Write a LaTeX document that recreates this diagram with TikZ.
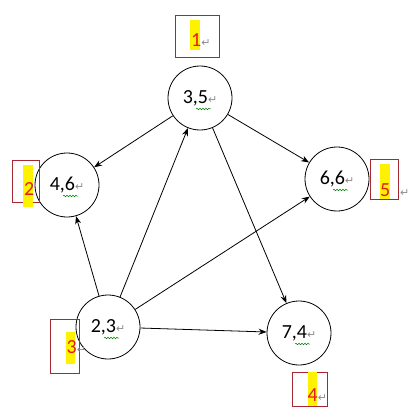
\documentclass[tikz,border=0pt]{standalone}
\usepackage{fontspec}
\setmainfont{Carlito}
\newfontfamily\arrowfont{DejaVu Sans}
\usetikzlibrary{arrows.meta, positioning, decorations.pathmorphing}
\definecolor{tagred}{RGB}{165,40,50}
\definecolor{numred}{RGB}{225,30,30}
\definecolor{markgray}{RGB}{140,140,140}
\newcommand{\pmark}{{\arrowfont\fontsize{11}{12}\selectfont\color{markgray}↵}}
\tikzset{
  state/.style={circle, draw, line width=0.8pt, minimum size=64pt, inner sep=0pt},
  tag/.style={draw=tagred, line width=0.9pt, inner sep=0pt},
  hl/.style={fill=yellow, inner sep=0pt, minimum width=10pt},
  num/.style={text=numred, anchor=base west, inner sep=0pt},
  squiggle/.style={draw=green!50!black, line width=0.5pt, decorate,
    decoration={snake, amplitude=0.8pt, segment length=3pt}}
}
\begin{document}
\begin{tikzpicture}[x=1pt, y=-1pt, >={Stealth[length=8pt, width=6pt]},
  every node/.style={font=\fontsize{20}{24}\selectfont}]
  \useasboundingbox (0,0) rectangle (413,417);
  % states
  \node[state] (s35) at (200,98) {3,5\pmark};
  \node[state] (s46) at (67,185) {4,6\pmark};
  \node[state] (s66) at (337,179) {6,6\pmark};
  \node[state] (s23) at (108,327) {2,3\pmark};
  \node[state] (s74) at (299,333) {7,4\pmark};
  \foreach \s in {s35,s46,s66,s23,s74}
    \draw[squiggle] ([xshift=-4pt, yshift=-11pt]\s.center) -- ++(15,0);
  % numbered tags
  \node[tag, minimum width=44pt, minimum height=42pt] (t1) at (197,36) {};
  \node[hl, minimum height=30pt] (h1) at (195,35) {};
  \node[num] (n1) at (191,47) {1\pmark};
  \node[tag, minimum width=27pt, minimum height=42pt] (t2) at (25.5,181) {};
  \node[hl, minimum height=42pt] (h2) at (28,186) {};
  \node[num] (n2) at (24,195) {2};
  \node[tag, minimum width=28pt, minimum height=40pt] (t5) at (384,179) {};
  \node[hl, minimum height=35pt] (h5) at (385,181.5) {};
  \node[num] (n5) at (380,196) {5};
  \node[anchor=base west, inner sep=0pt] (r5) at (400,196) {\pmark};
  \node[tag, minimum width=29pt, minimum height=54pt] (t3) at (64.5,346) {};
  \node[hl, minimum width=9pt, minimum height=32pt] (h3) at (70.5,348) {};
  \node[num] (n3) at (66.5,353) {3\pmark};
  \node[tag, minimum width=35pt, minimum height=34pt] (t4) at (309.5,389) {};
  \node[hl, minimum width=9pt, minimum height=34pt] (h4) at (312.5,389) {};
  \node[num] (n4) at (307.5,401) {4\pmark};
  % transitions
  \draw[->, line width=0.8pt] (s35) -- (s46);
  \draw[->, line width=0.8pt] (s35) -- (s66);
  \draw[->, line width=0.8pt] (s35) -- (s74);
  \draw[->, line width=0.8pt] (s23) -- (s46);
  \draw[->, line width=0.8pt] (s23) -- (s35);
  \draw[->, line width=0.8pt] (s23) -- (s66);
  \draw[->, line width=0.8pt] (s23) -- (s74);
\end{tikzpicture}
\end{document}
